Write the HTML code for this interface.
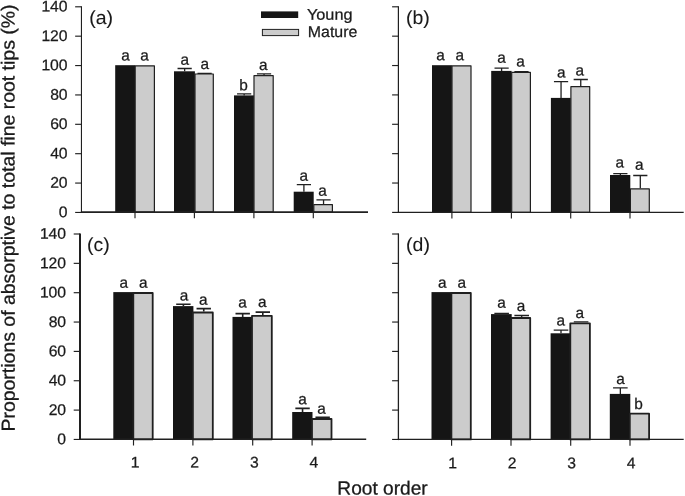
<!DOCTYPE html>
<html lang="en">
<head>
<meta charset="utf-8">
<title>Proportions of absorptive to total fine root tips by root order</title>
<style>
html,body{margin:0;padding:0;background:#ffffff;}
body{width:685px;height:496px;overflow:hidden;}
svg{display:block;}
svg text{font-family:"Liberation Sans",Arial,Helvetica,sans-serif;fill:#1a1a1a;stroke:#1a1a1a;stroke-width:0.25px;}
svg text.h{stroke-width:0.3px;}
svg text.p{stroke-width:0.08px;}
</style>
</head>
<body>
<svg width="685" height="496" viewBox="0 0 685 496">
<rect x="0" y="0" width="685" height="496" fill="#ffffff"/>
<rect x="115.20" y="65.20" width="19.90" height="146.90" fill="#151515"/>
<rect x="135.20" y="65.80" width="19.20" height="146.30" fill="#cccccc" stroke="#202020" stroke-width="1.2" stroke-linejoin="round"/>
<rect x="174.00" y="71.30" width="20.90" height="140.80" fill="#151515"/>
<rect x="195.00" y="74.00" width="18.30" height="138.10" fill="#cccccc" stroke="#202020" stroke-width="1.2" stroke-linejoin="round"/>
<path d="M184.65 71.30V68.50M177.55 68.50H191.75" stroke="#202020" stroke-width="1.3" fill="none"/>
<path d="M204.60 73.40V73.30M197.50 73.30H211.70" stroke="#202020" stroke-width="1.3" fill="none"/>
<rect x="234.00" y="95.40" width="19.90" height="116.70" fill="#151515"/>
<rect x="254.00" y="75.70" width="19.20" height="136.40" fill="#cccccc" stroke="#202020" stroke-width="1.2" stroke-linejoin="round"/>
<path d="M244.15 95.40V93.90M237.05 93.90H251.25" stroke="#202020" stroke-width="1.3" fill="none"/>
<path d="M264.05 75.10V73.80M256.95 73.80H271.15" stroke="#202020" stroke-width="1.3" fill="none"/>
<rect x="293.70" y="191.70" width="20.00" height="20.40" fill="#151515"/>
<rect x="313.80" y="204.60" width="18.60" height="7.50" fill="#cccccc" stroke="#202020" stroke-width="1.2" stroke-linejoin="round"/>
<path d="M303.90 191.70V184.60M296.80 184.60H311.00" stroke="#202020" stroke-width="1.3" fill="none"/>
<path d="M323.55 204.00V199.80M316.45 199.80H330.65" stroke="#202020" stroke-width="1.3" fill="none"/>
<line x1="81.45" y1="6.20" x2="81.45" y2="212.97" stroke="#202020" stroke-width="1.1"/>
<line x1="80.90" y1="212.10" x2="368.00" y2="212.10" stroke="#202020" stroke-width="1.75"/>
<line x1="75.15" y1="212.45" x2="81.45" y2="212.45" stroke="#202020" stroke-width="1.15"/>
<text transform="translate(67.60 217.20) rotate(0.03) scale(1.017 1)" text-anchor="end" font-size="15.45">0</text>
<line x1="75.15" y1="183.07" x2="81.45" y2="183.07" stroke="#202020" stroke-width="1.15"/>
<text transform="translate(67.60 187.82) rotate(0.03) scale(1.017 1)" text-anchor="end" font-size="15.45">20</text>
<line x1="75.15" y1="153.69" x2="81.45" y2="153.69" stroke="#202020" stroke-width="1.15"/>
<text transform="translate(67.60 158.44) rotate(0.03) scale(1.017 1)" text-anchor="end" font-size="15.45">40</text>
<line x1="75.15" y1="124.31" x2="81.45" y2="124.31" stroke="#202020" stroke-width="1.15"/>
<text transform="translate(67.60 129.06) rotate(0.03) scale(1.017 1)" text-anchor="end" font-size="15.45">60</text>
<line x1="75.15" y1="94.94" x2="81.45" y2="94.94" stroke="#202020" stroke-width="1.15"/>
<text transform="translate(67.60 99.69) rotate(0.03) scale(1.017 1)" text-anchor="end" font-size="15.45">80</text>
<line x1="75.15" y1="65.56" x2="81.45" y2="65.56" stroke="#202020" stroke-width="1.15"/>
<text transform="translate(67.60 70.31) rotate(0.03) scale(1.017 1)" text-anchor="end" font-size="15.45">100</text>
<line x1="75.15" y1="36.18" x2="81.45" y2="36.18" stroke="#202020" stroke-width="1.15"/>
<text transform="translate(67.60 40.93) rotate(0.03) scale(1.017 1)" text-anchor="end" font-size="15.45">120</text>
<line x1="75.15" y1="6.80" x2="81.45" y2="6.80" stroke="#202020" stroke-width="1.15"/>
<text transform="translate(67.60 11.55) rotate(0.03) scale(1.017 1)" text-anchor="end" font-size="15.45">140</text>
<line x1="135.00" y1="212.10" x2="135.00" y2="218.30" stroke="#202020" stroke-width="1.15"/>
<line x1="194.40" y1="212.10" x2="194.40" y2="218.30" stroke="#202020" stroke-width="1.15"/>
<line x1="253.90" y1="212.10" x2="253.90" y2="218.30" stroke="#202020" stroke-width="1.15"/>
<line x1="313.30" y1="212.10" x2="313.30" y2="218.30" stroke="#202020" stroke-width="1.15"/>
<text transform="translate(125.60 60.50) rotate(0.03) scale(1.0 1)" text-anchor="middle" font-size="15.4">a</text>
<text transform="translate(144.60 60.50) rotate(0.03) scale(1.0 1)" text-anchor="middle" font-size="15.4">a</text>
<text transform="translate(184.80 64.70) rotate(0.03) scale(1.0 1)" text-anchor="middle" font-size="15.4">a</text>
<text transform="translate(204.70 69.00) rotate(0.03) scale(1.0 1)" text-anchor="middle" font-size="15.4">a</text>
<text transform="translate(243.50 90.30) rotate(0.03) scale(1.0 1)" text-anchor="middle" font-size="15.4">b</text>
<text transform="translate(263.40 70.00) rotate(0.03) scale(1.0 1)" text-anchor="middle" font-size="15.4">a</text>
<text transform="translate(303.80 180.70) rotate(0.03) scale(1.0 1)" text-anchor="middle" font-size="15.4">a</text>
<text transform="translate(322.60 195.80) rotate(0.03) scale(1.0 1)" text-anchor="middle" font-size="15.4">a</text>
<text transform="translate(89.20 24.00) rotate(0.03) scale(1.03 1)" font-size="18.9" class="p">(a)</text>
<rect x="432.00" y="65.20" width="19.90" height="147.20" fill="#151515"/>
<rect x="452.00" y="65.80" width="19.00" height="146.60" fill="#cccccc" stroke="#202020" stroke-width="1.2" stroke-linejoin="round"/>
<rect x="491.20" y="70.90" width="20.40" height="141.50" fill="#151515"/>
<rect x="511.70" y="72.40" width="18.70" height="140.00" fill="#cccccc" stroke="#202020" stroke-width="1.2" stroke-linejoin="round"/>
<path d="M501.60 70.90V68.10M494.50 68.10H508.70" stroke="#202020" stroke-width="1.3" fill="none"/>
<path d="M521.50 71.80V71.70M514.40 71.70H528.60" stroke="#202020" stroke-width="1.3" fill="none"/>
<rect x="550.90" y="97.90" width="19.90" height="114.50" fill="#151515"/>
<rect x="570.90" y="86.70" width="18.80" height="125.70" fill="#cccccc" stroke="#202020" stroke-width="1.2" stroke-linejoin="round"/>
<path d="M561.05 97.90V81.70M553.95 81.70H568.15" stroke="#202020" stroke-width="1.3" fill="none"/>
<path d="M580.75 86.10V79.50M573.65 79.50H587.85" stroke="#202020" stroke-width="1.3" fill="none"/>
<rect x="610.00" y="175.00" width="20.30" height="37.40" fill="#151515"/>
<rect x="630.40" y="188.90" width="18.90" height="23.50" fill="#cccccc" stroke="#202020" stroke-width="1.2" stroke-linejoin="round"/>
<path d="M620.35 175.00V173.60M613.25 173.60H627.45" stroke="#202020" stroke-width="1.3" fill="none"/>
<path d="M640.30 188.30V175.50M633.20 175.50H647.40" stroke="#202020" stroke-width="1.3" fill="none"/>
<line x1="398.40" y1="6.20" x2="398.40" y2="213.03" stroke="#202020" stroke-width="1.2"/>
<line x1="397.80" y1="212.40" x2="683.70" y2="212.40" stroke="#202020" stroke-width="1.25"/>
<line x1="392.10" y1="212.40" x2="398.40" y2="212.40" stroke="#202020" stroke-width="1.15"/>
<line x1="392.10" y1="183.03" x2="398.40" y2="183.03" stroke="#202020" stroke-width="1.15"/>
<line x1="392.10" y1="153.66" x2="398.40" y2="153.66" stroke="#202020" stroke-width="1.15"/>
<line x1="392.10" y1="124.29" x2="398.40" y2="124.29" stroke="#202020" stroke-width="1.15"/>
<line x1="392.10" y1="94.91" x2="398.40" y2="94.91" stroke="#202020" stroke-width="1.15"/>
<line x1="392.10" y1="65.54" x2="398.40" y2="65.54" stroke="#202020" stroke-width="1.15"/>
<line x1="392.10" y1="36.17" x2="398.40" y2="36.17" stroke="#202020" stroke-width="1.15"/>
<line x1="392.10" y1="6.80" x2="398.40" y2="6.80" stroke="#202020" stroke-width="1.15"/>
<line x1="451.90" y1="212.40" x2="451.90" y2="218.60" stroke="#202020" stroke-width="1.15"/>
<line x1="511.40" y1="212.40" x2="511.40" y2="218.60" stroke="#202020" stroke-width="1.15"/>
<line x1="570.70" y1="212.40" x2="570.70" y2="218.60" stroke="#202020" stroke-width="1.15"/>
<line x1="630.00" y1="212.40" x2="630.00" y2="218.60" stroke="#202020" stroke-width="1.15"/>
<text transform="translate(440.50 60.30) rotate(0.03) scale(1.0 1)" text-anchor="middle" font-size="15.4">a</text>
<text transform="translate(459.80 60.30) rotate(0.03) scale(1.0 1)" text-anchor="middle" font-size="15.4">a</text>
<text transform="translate(501.60 62.80) rotate(0.03) scale(1.0 1)" text-anchor="middle" font-size="15.4">a</text>
<text transform="translate(520.60 66.60) rotate(0.03) scale(1.0 1)" text-anchor="middle" font-size="15.4">a</text>
<text transform="translate(561.30 77.40) rotate(0.03) scale(1.0 1)" text-anchor="middle" font-size="15.4">a</text>
<text transform="translate(579.90 75.50) rotate(0.03) scale(1.0 1)" text-anchor="middle" font-size="15.4">a</text>
<text transform="translate(619.90 167.60) rotate(0.03) scale(1.0 1)" text-anchor="middle" font-size="15.4">a</text>
<text transform="translate(639.40 169.80) rotate(0.03) scale(1.0 1)" text-anchor="middle" font-size="15.4">a</text>
<text transform="translate(406.00 24.00) rotate(0.03) scale(1.03 1)" font-size="18.9" class="p">(b)</text>
<rect x="113.30" y="292.10" width="20.50" height="147.20" fill="#151515"/>
<rect x="133.30" y="293.00" width="19.40" height="146.30" fill="#cccccc" stroke="#202020" stroke-width="1.8" stroke-linejoin="round"/>
<rect x="173.00" y="306.10" width="20.40" height="133.20" fill="#151515"/>
<rect x="192.90" y="312.50" width="19.90" height="126.80" fill="#cccccc" stroke="#202020" stroke-width="1.8" stroke-linejoin="round"/>
<path d="M183.40 306.10V304.20M176.20 304.20H190.60" stroke="#202020" stroke-width="1.6" fill="none"/>
<path d="M203.75 311.60V308.60M196.55 308.60H210.95" stroke="#202020" stroke-width="1.6" fill="none"/>
<rect x="232.50" y="316.90" width="20.00" height="122.40" fill="#151515"/>
<rect x="252.00" y="315.80" width="19.80" height="123.50" fill="#cccccc" stroke="#202020" stroke-width="1.8" stroke-linejoin="round"/>
<path d="M242.70 316.90V313.60M235.50 313.60H249.90" stroke="#202020" stroke-width="1.6" fill="none"/>
<path d="M262.80 314.90V312.10M255.60 312.10H270.00" stroke="#202020" stroke-width="1.6" fill="none"/>
<rect x="292.20" y="412.00" width="20.30" height="27.30" fill="#151515"/>
<rect x="312.00" y="419.00" width="19.50" height="20.30" fill="#cccccc" stroke="#202020" stroke-width="1.8" stroke-linejoin="round"/>
<path d="M302.55 412.00V408.40M295.35 408.40H309.75" stroke="#202020" stroke-width="1.6" fill="none"/>
<path d="M322.65 418.10V417.30M315.45 417.30H329.85" stroke="#202020" stroke-width="1.6" fill="none"/>
<line x1="80.00" y1="233.40" x2="80.00" y2="440.05" stroke="#202020" stroke-width="2.0"/>
<line x1="79.00" y1="439.30" x2="366.20" y2="439.30" stroke="#202020" stroke-width="1.5"/>
<line x1="73.70" y1="439.45" x2="80.00" y2="439.45" stroke="#202020" stroke-width="1.15"/>
<text transform="translate(66.10 444.30) rotate(0.03) scale(1.017 1)" text-anchor="end" font-size="15.45">0</text>
<line x1="73.70" y1="410.10" x2="80.00" y2="410.10" stroke="#202020" stroke-width="1.15"/>
<text transform="translate(66.10 414.95) rotate(0.03) scale(1.017 1)" text-anchor="end" font-size="15.45">20</text>
<line x1="73.70" y1="380.75" x2="80.00" y2="380.75" stroke="#202020" stroke-width="1.15"/>
<text transform="translate(66.10 385.60) rotate(0.03) scale(1.017 1)" text-anchor="end" font-size="15.45">40</text>
<line x1="73.70" y1="351.40" x2="80.00" y2="351.40" stroke="#202020" stroke-width="1.15"/>
<text transform="translate(66.10 356.25) rotate(0.03) scale(1.017 1)" text-anchor="end" font-size="15.45">60</text>
<line x1="73.70" y1="322.05" x2="80.00" y2="322.05" stroke="#202020" stroke-width="1.15"/>
<text transform="translate(66.10 326.90) rotate(0.03) scale(1.017 1)" text-anchor="end" font-size="15.45">80</text>
<line x1="73.70" y1="292.70" x2="80.00" y2="292.70" stroke="#202020" stroke-width="1.15"/>
<text transform="translate(66.10 297.55) rotate(0.03) scale(1.017 1)" text-anchor="end" font-size="15.45">100</text>
<line x1="73.70" y1="263.35" x2="80.00" y2="263.35" stroke="#202020" stroke-width="1.15"/>
<text transform="translate(66.10 268.20) rotate(0.03) scale(1.017 1)" text-anchor="end" font-size="15.45">120</text>
<line x1="73.70" y1="234.00" x2="80.00" y2="234.00" stroke="#202020" stroke-width="1.15"/>
<text transform="translate(66.10 238.85) rotate(0.03) scale(1.017 1)" text-anchor="end" font-size="15.45">140</text>
<line x1="133.50" y1="439.30" x2="133.50" y2="445.50" stroke="#202020" stroke-width="1.15"/>
<text transform="translate(135.20 467.40) rotate(0.03) scale(1.017 1)" text-anchor="middle" font-size="15.45">1</text>
<line x1="192.90" y1="439.30" x2="192.90" y2="445.50" stroke="#202020" stroke-width="1.15"/>
<text transform="translate(194.60 467.40) rotate(0.03) scale(1.017 1)" text-anchor="middle" font-size="15.45">2</text>
<line x1="252.70" y1="439.30" x2="252.70" y2="445.50" stroke="#202020" stroke-width="1.15"/>
<text transform="translate(254.40 467.40) rotate(0.03) scale(1.017 1)" text-anchor="middle" font-size="15.45">3</text>
<line x1="312.10" y1="439.30" x2="312.10" y2="445.50" stroke="#202020" stroke-width="1.15"/>
<text transform="translate(313.80 467.40) rotate(0.03) scale(1.017 1)" text-anchor="middle" font-size="15.45">4</text>
<text transform="translate(123.70 287.80) rotate(0.03) scale(1.0 1)" text-anchor="middle" font-size="15.4">a</text>
<text transform="translate(143.30 287.80) rotate(0.03) scale(1.0 1)" text-anchor="middle" font-size="15.4">a</text>
<text transform="translate(184.00 300.50) rotate(0.03) scale(1.0 1)" text-anchor="middle" font-size="15.4">a</text>
<text transform="translate(203.40 304.80) rotate(0.03) scale(1.0 1)" text-anchor="middle" font-size="15.4">a</text>
<text transform="translate(242.50 307.50) rotate(0.03) scale(1.0 1)" text-anchor="middle" font-size="15.4">a</text>
<text transform="translate(262.40 307.10) rotate(0.03) scale(1.0 1)" text-anchor="middle" font-size="15.4">a</text>
<text transform="translate(302.60 404.30) rotate(0.03) scale(1.0 1)" text-anchor="middle" font-size="15.4">a</text>
<text transform="translate(321.60 413.80) rotate(0.03) scale(1.0 1)" text-anchor="middle" font-size="15.4">a</text>
<text transform="translate(87.10 251.00) rotate(0.03) scale(1.03 1)" font-size="18.9" class="p">(c)</text>
<rect x="431.50" y="292.10" width="20.40" height="147.35" fill="#151515"/>
<rect x="451.40" y="293.00" width="19.40" height="146.45" fill="#cccccc" stroke="#202020" stroke-width="1.8" stroke-linejoin="round"/>
<rect x="491.00" y="314.10" width="20.70" height="125.35" fill="#151515"/>
<rect x="511.20" y="318.00" width="19.00" height="121.45" fill="#cccccc" stroke="#202020" stroke-width="1.8" stroke-linejoin="round"/>
<path d="M501.65 314.10V313.30M494.35 313.30H508.95" stroke="#202020" stroke-width="1.3" fill="none"/>
<path d="M521.70 317.10V315.50M514.40 315.50H529.00" stroke="#202020" stroke-width="1.3" fill="none"/>
<rect x="550.60" y="333.30" width="20.20" height="106.15" fill="#151515"/>
<rect x="570.30" y="323.30" width="19.60" height="116.15" fill="#cccccc" stroke="#202020" stroke-width="1.8" stroke-linejoin="round"/>
<path d="M561.00 333.30V330.10M553.70 330.10H568.30" stroke="#202020" stroke-width="1.3" fill="none"/>
<path d="M581.10 322.40V321.90M573.80 321.90H588.40" stroke="#202020" stroke-width="1.3" fill="none"/>
<rect x="609.80" y="393.90" width="20.50" height="45.55" fill="#151515"/>
<rect x="629.80" y="413.70" width="19.30" height="25.75" fill="#cccccc" stroke="#202020" stroke-width="1.8" stroke-linejoin="round"/>
<path d="M620.35 393.90V387.80M613.05 387.80H627.65" stroke="#202020" stroke-width="1.3" fill="none"/>
<line x1="398.40" y1="233.40" x2="398.40" y2="440.10" stroke="#202020" stroke-width="1.3"/>
<line x1="397.75" y1="439.45" x2="683.70" y2="439.45" stroke="#202020" stroke-width="1.3"/>
<line x1="392.10" y1="439.45" x2="398.40" y2="439.45" stroke="#202020" stroke-width="1.15"/>
<line x1="392.10" y1="410.10" x2="398.40" y2="410.10" stroke="#202020" stroke-width="1.15"/>
<line x1="392.10" y1="380.75" x2="398.40" y2="380.75" stroke="#202020" stroke-width="1.15"/>
<line x1="392.10" y1="351.40" x2="398.40" y2="351.40" stroke="#202020" stroke-width="1.15"/>
<line x1="392.10" y1="322.05" x2="398.40" y2="322.05" stroke="#202020" stroke-width="1.15"/>
<line x1="392.10" y1="292.70" x2="398.40" y2="292.70" stroke="#202020" stroke-width="1.15"/>
<line x1="392.10" y1="263.35" x2="398.40" y2="263.35" stroke="#202020" stroke-width="1.15"/>
<line x1="392.10" y1="234.00" x2="398.40" y2="234.00" stroke="#202020" stroke-width="1.15"/>
<line x1="451.60" y1="439.45" x2="451.60" y2="445.65" stroke="#202020" stroke-width="1.15"/>
<text transform="translate(452.60 468.35) rotate(0.03) scale(1.017 1)" text-anchor="middle" font-size="15.45">1</text>
<line x1="511.00" y1="439.45" x2="511.00" y2="445.65" stroke="#202020" stroke-width="1.15"/>
<text transform="translate(512.00 468.35) rotate(0.03) scale(1.017 1)" text-anchor="middle" font-size="15.45">2</text>
<line x1="570.70" y1="439.45" x2="570.70" y2="445.65" stroke="#202020" stroke-width="1.15"/>
<text transform="translate(571.70 468.35) rotate(0.03) scale(1.017 1)" text-anchor="middle" font-size="15.45">3</text>
<line x1="630.00" y1="439.45" x2="630.00" y2="445.65" stroke="#202020" stroke-width="1.15"/>
<text transform="translate(631.00 468.35) rotate(0.03) scale(1.017 1)" text-anchor="middle" font-size="15.45">4</text>
<text transform="translate(442.20 287.80) rotate(0.03) scale(1.0 1)" text-anchor="middle" font-size="15.4">a</text>
<text transform="translate(461.70 287.80) rotate(0.03) scale(1.0 1)" text-anchor="middle" font-size="15.4">a</text>
<text transform="translate(501.60 307.70) rotate(0.03) scale(1.0 1)" text-anchor="middle" font-size="15.4">a</text>
<text transform="translate(521.00 311.10) rotate(0.03) scale(1.0 1)" text-anchor="middle" font-size="15.4">a</text>
<text transform="translate(560.90 325.50) rotate(0.03) scale(1.0 1)" text-anchor="middle" font-size="15.4">a</text>
<text transform="translate(579.90 317.90) rotate(0.03) scale(1.0 1)" text-anchor="middle" font-size="15.4">a</text>
<text transform="translate(620.50 384.10) rotate(0.03) scale(1.0 1)" text-anchor="middle" font-size="15.4">a</text>
<text transform="translate(638.50 409.00) rotate(0.03) scale(1.0 1)" text-anchor="middle" font-size="15.4">b</text>
<text transform="translate(406.10 251.00) rotate(0.03) scale(1.03 1)" font-size="18.9" class="p">(d)</text>
<rect x="261" y="11.4" width="37.2" height="6.6" fill="#151515"/>
<rect x="262.4" y="29.4" width="36.2" height="6.2" fill="#cccccc" stroke="#202020" stroke-width="1"/>
<text transform="translate(306.90 19.70) rotate(0.03) scale(1.045 1)" font-size="15.6">Young</text>
<text transform="translate(307.80 37.00) rotate(0.03) scale(1.02 1)" font-size="15.6">Mature</text>
<text transform="translate(382.50 494.60) rotate(0.03) scale(1.012 1)" text-anchor="middle" font-size="18.9" class="h">Root order</text>
<text transform="translate(14.6 218) rotate(-90.03) scale(1.03 1)" text-anchor="middle" font-size="18.9" class="h">Proportions of absorptive to total fine root tips (%)</text>
</svg>
</body>
</html>
